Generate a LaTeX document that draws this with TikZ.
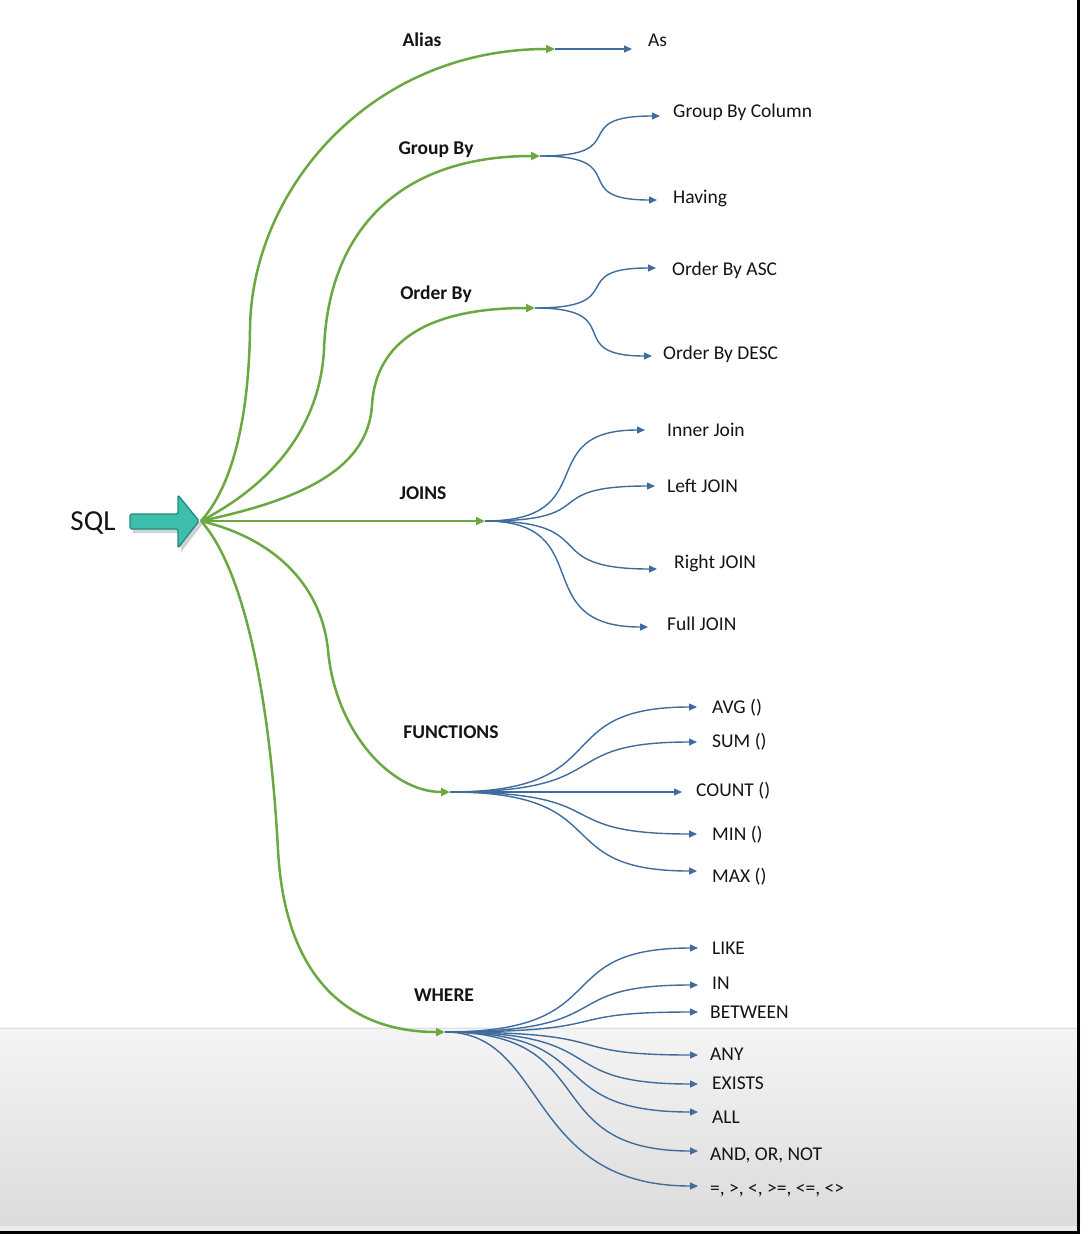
\documentclass[tikz,border=0pt]{standalone}
\usepackage{fontspec}
\setmainfont{Carlito}
\usetikzlibrary{arrows.meta}
\definecolor{grn}{HTML}{6CA842}
\definecolor{blu}{HTML}{3F6C9C}
\definecolor{teal1}{HTML}{3EBFAC}
\definecolor{teal2}{HTML}{1E8A7C}
\tikzset{
  grnline/.style={draw=grn, line width=2.5pt, -{Triangle[length=9pt,width=8pt]}},
  bluline/.style={draw=blu, line width=1.4pt, -{Triangle[length=8pt,width=7pt]}},
  cat/.style={font=\fontsize{19.5}{22}\selectfont\bfseries, inner sep=0pt, anchor=base, text=black!92},
  leaf/.style={font=\fontsize{19.5}{22}\selectfont, inner sep=0pt, anchor=base west, text=black!92},
  blockarrow/.style={fill=teal1, draw=teal2, line width=1.3pt, rounded corners=1.5pt},
}
\begin{document}
\begin{tikzpicture}[x=1pt,y=-1pt]
\useasboundingbox (0,0) rectangle (1080,1234);
\fill[white] (0,0) rectangle (1080,1234);
% lower grey band of the screenshot
\shade[top color=white!96!black, bottom color=black!14] (0,1027) rectangle (1080,1226);
\fill[black!8] (0,1226) rectangle (1080,1231);
\draw[black!12, line width=1pt] (0,1028) -- (1080,1028);
\fill[black] (0,1231) rectangle (1080,1234);
\fill[black] (1077,0) rectangle (1080,1234);

% root
\node[font=\fontsize{29}{32}\selectfont, inner sep=0pt, anchor=base, text=black!92] (sql) at (93,530) {SQL};
\fill[black, opacity=0.18] (133,518) -- (181,518) -- (181,499) -- (202,525) -- (181,552) -- (181,533) -- (133,533) -- cycle;
\path[blockarrow] (130,514) -- (178,514) -- (178,495) -- (199,521) -- (178,548) -- (178,529) -- (130,529) -- cycle;
\coordinate (root) at (201,521);

% hubs
\coordinate (hA) at (555,49);
\coordinate (hG) at (540,156);
\coordinate (hO) at (535,308);
\coordinate (hJ) at (485,521);
\coordinate (hF) at (450,792);
\coordinate (hW) at (445,1032);

% category labels
\node[cat] (lA) at (422,46) {Alias};
\node[cat] (lG) at (436,154) {Group By};
\node[cat] (lO) at (436,299) {Order By};
\node[cat] (lJ) at (423,499) {JOINS};
\node[cat] (lF) at (451,738) {FUNCTIONS};
\node[cat] (lW) at (444,1001) {WHERE};

% green branches
\draw[grnline] (root) .. controls (238,480) and (249,400) .. (250,330)
   .. controls (251,190) and (370,49) .. (hA);
\draw[grnline] (root) .. controls (280,480) and (320,420) .. (324,350)
   .. controls (328,230) and (400,156) .. (hG);
\draw[grnline] (root) .. controls (300,500) and (368,470) .. (372,405)
   .. controls (376,340) and (430,308) .. (hO);
\draw[grnline] (root) -- (hJ);
\draw[grnline] (root) .. controls (280,540) and (322,590) .. (328,650)
   .. controls (335,730) and (390,792) .. (hF);
\draw[grnline] (root) .. controls (245,570) and (270,700) .. (278,850)
   .. controls (285,980) and (350,1032) .. (hW);

% leaves
\node[leaf] (As) at (648,46) {As};
\node[leaf] (gbc) at (673,117) {Group By Column};
\node[leaf] (hav) at (673,203) {Having};
\node[leaf] (asc) at (672,275) {Order By ASC};
\node[leaf] (desc) at (663,359) {Order By DESC};
\node[leaf] (inj) at (667,436) {Inner Join};
\node[leaf] (lej) at (667,492) {Left JOIN};
\node[leaf] (rij) at (674,568) {Right JOIN};
\node[leaf] (fuj) at (667,630) {Full JOIN};
\node[leaf] (avg) at (712,713) {AVG ()};
\node[leaf] (sum) at (712,747) {SUM ()};
\node[leaf] (cnt) at (696,796) {COUNT ()};
\node[leaf] (min) at (712,840) {MIN ()};
\node[leaf] (max) at (712,882) {MAX ()};
\node[leaf] (like) at (712,954) {LIKE};
\node[leaf] (in) at (712,989) {IN};
\node[leaf] (btw) at (710,1018) {BETWEEN};
\node[leaf] (any) at (710,1060) {ANY};
\node[leaf] (exi) at (712,1089) {EXISTS};
\node[leaf] (all) at (712,1123) {ALL};
\node[leaf] (aon) at (710,1160) {AND, OR, NOT};
\node[leaf] (cmp) at (710,1194) {=, >, <, >=, <=, <>};

% arrow tips of leaves
\coordinate (tAs) at (632,49);
\coordinate (tgbc) at (660,116);
\coordinate (thav) at (657,200);
\coordinate (tasc) at (656,268);
\coordinate (tdesc) at (652,356);
\coordinate (tinj) at (645,430);
\coordinate (tlej) at (655,486);
\coordinate (trij) at (657,569);
\coordinate (tfuj) at (648,627);
\coordinate (tavg) at (697,707);
\coordinate (tsum) at (697,742);
\coordinate (tcnt) at (682,792);
\coordinate (tmin) at (697,834);
\coordinate (tmax) at (697,871);
\coordinate (tlike) at (698,948);
\coordinate (tin) at (698,985);
\coordinate (tbtw) at (698,1012);
\coordinate (tany) at (698,1055);
\coordinate (texi) at (698,1084);
\coordinate (tall) at (698,1112);
\coordinate (taon) at (698,1151);
\coordinate (tcmp) at (698,1186);

% blue branches
\draw[bluline] (hA) -- (tAs);
\draw[bluline] (hG) .. controls (635,156) and (565,116) .. (tgbc);
\draw[bluline] (hG) .. controls (635,156) and (565,200) .. (thav);
\draw[bluline] (hO) .. controls (632,308) and (564,268) .. (tasc);
\draw[bluline] (hO) .. controls (630,308) and (560,356) .. (tdesc);
\draw[bluline] (hJ) .. controls (605,521) and (530,430) .. (tinj);
\draw[bluline] (hJ) .. controls (605,521) and (535,486) .. (tlej);
\draw[bluline] (hJ) .. controls (605,521) and (535,569) .. (trij);
\draw[bluline] (hJ) .. controls (600,521) and (525,627) .. (tfuj);
\draw[bluline] (hF) .. controls (620,792) and (545,707) .. (tavg);
\draw[bluline] (hF) .. controls (620,792) and (550,742) .. (tsum);
\draw[bluline] (hF) -- (tcnt);
\draw[bluline] (hF) .. controls (620,792) and (545,834) .. (tmin);
\draw[bluline] (hF) .. controls (620,792) and (545,871) .. (tmax);
\draw[bluline] (hW) .. controls (620,1032) and (545,948) .. (tlike);
\draw[bluline] (hW) .. controls (625,1032) and (550,985) .. (tin);
\draw[bluline] (hW) .. controls (625,1032) and (550,1012) .. (tbtw);
\draw[bluline] (hW) .. controls (628,1032) and (552,1055) .. (tany);
\draw[bluline] (hW) .. controls (618,1032) and (545,1084) .. (texi);
\draw[bluline] (hW) .. controls (608,1032) and (538,1112) .. (tall);
\draw[bluline] (hW) .. controls (605,1032) and (535,1151) .. (taon);
\draw[bluline] (hW) .. controls (548,1032) and (525,1186) .. (tcmp);
\end{tikzpicture}
\end{document}
